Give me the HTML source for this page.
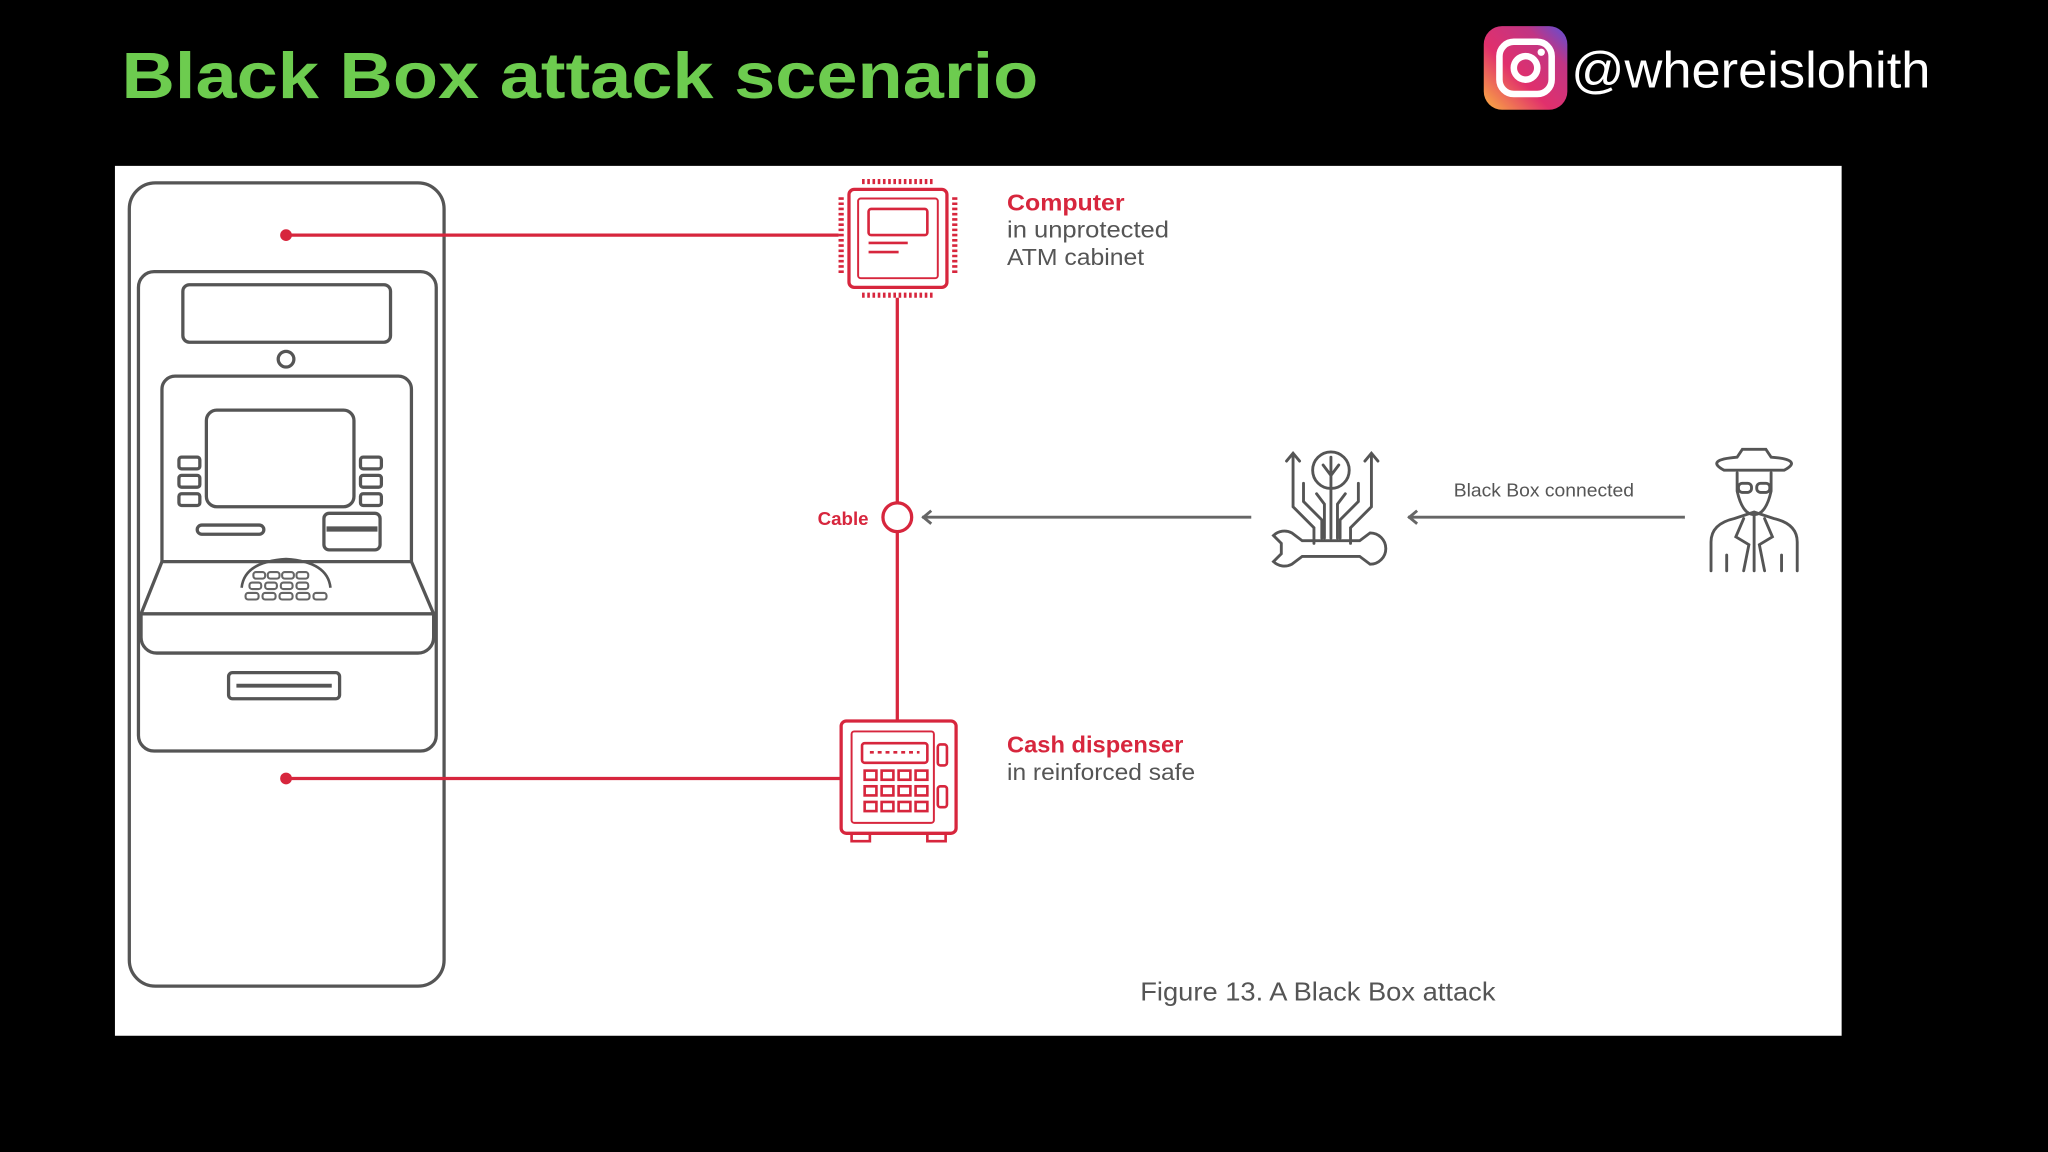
<!DOCTYPE html>
<html><head><meta charset="utf-8"><style>
html,body{margin:0;padding:0;background:#000;width:2048px;height:1152px;overflow:hidden}
svg{display:block}
text{font-family:"Liberation Sans",sans-serif}
</style></head><body>
<svg width="2048" height="1152" viewBox="0 0 1568 882" xmlns="http://www.w3.org/2000/svg">
<defs>
<linearGradient id="ig" x1="0" y1="1" x2="1" y2="0">
<stop offset="0" stop-color="#fbb040"/><stop offset="0.4" stop-color="#e1306c"/><stop offset="0.75" stop-color="#c13584"/><stop offset="1" stop-color="#5851db"/>
</linearGradient>
</defs>
<rect width="1568" height="882" fill="#000"/>
<text x="93" y="75" font-size="50" font-weight="bold" fill="#6dcc4f" textLength="702" lengthAdjust="spacingAndGlyphs">Black Box attack scenario</text>
<rect x="1136" y="20" width="64" height="64" rx="14" fill="url(#ig)"/>
<rect x="1148" y="32" width="40" height="40" rx="11" fill="none" stroke="#fff" stroke-width="5"/>
<circle cx="1168" cy="52" r="9" fill="none" stroke="#fff" stroke-width="5"/>
<circle cx="1180" cy="40" r="2.8" fill="#fff"/>
<text x="1203" y="67" font-size="39" fill="#fff" textLength="275" lengthAdjust="spacingAndGlyphs">@whereislohith</text>

<rect x="88" y="127" width="1322" height="666" fill="#fff"/>

<g fill="none" stroke="#555" stroke-width="2.5">
<rect x="99" y="140" width="241" height="615" rx="20"/>
<rect x="106" y="208" width="228" height="367" rx="12"/>
<rect x="140" y="218" width="159" height="44" rx="5"/>
<circle cx="219" cy="275" r="6"/>
<path d="M124,430 V298 a10,10 0 0 1 10,-10 H305 a10,10 0 0 1 10,10 V430"/>
<rect x="158" y="314" width="113" height="74" rx="8"/>
<rect x="137" y="350" width="16" height="9" rx="2"/><rect x="137" y="364" width="16" height="9" rx="2"/><rect x="137" y="378" width="16" height="9" rx="2"/>
<rect x="276" y="350" width="16" height="9" rx="2"/><rect x="276" y="364" width="16" height="9" rx="2"/><rect x="276" y="378" width="16" height="9" rx="2"/>
<rect x="151" y="402" width="51" height="7" rx="3.5"/>
<rect x="248" y="393" width="43" height="28" rx="4"/>
<line x1="250" y1="405" x2="289" y2="405" stroke-width="4"/>
<path d="M124,430 H315 L332,470 H108 Z"/>
<path d="M108,470 H332 V488 a12,12 0 0 1 -12,12 H120 a12,12 0 0 1 -12,-12 Z"/>
<rect x="175" y="515" width="85" height="20" rx="3"/>
<line x1="181" y1="525" x2="254" y2="525" stroke-width="3"/>
<path d="M185,450 q2,-20 34,-22 q32,2 34,22" stroke-width="2"/>
</g>
<g fill="none" stroke="#666" stroke-width="1.6">
<rect x="194" y="438" width="9" height="5" rx="2"/><rect x="205" y="438" width="9" height="5" rx="2"/><rect x="216" y="438" width="9" height="5" rx="2"/><rect x="227" y="438" width="9" height="5" rx="2"/>
<rect x="191" y="446" width="9" height="5" rx="2"/><rect x="203" y="446" width="9" height="5" rx="2"/><rect x="215" y="446" width="9" height="5" rx="2"/><rect x="227" y="446" width="9" height="5" rx="2"/>
<rect x="188" y="454" width="10" height="5" rx="2"/><rect x="201" y="454" width="10" height="5" rx="2"/><rect x="214" y="454" width="10" height="5" rx="2"/><rect x="227" y="454" width="10" height="5" rx="2"/><rect x="240" y="454" width="10" height="5" rx="2"/>
</g>

<g stroke="#d7263d" stroke-width="2.5" fill="none">
<line x1="219" y1="180" x2="642" y2="180"/>
<line x1="219" y1="596" x2="644" y2="596"/>
<line x1="687" y1="228" x2="687" y2="385"/>
<line x1="687" y1="407" x2="687" y2="553"/>
<circle cx="687" cy="396" r="11" fill="#fff"/>
<rect x="650" y="145" width="75" height="75" rx="4"/>
<rect x="657" y="152" width="61" height="61" rx="2" stroke-width="1.5"/>
<rect x="665" y="160" width="45" height="20" rx="2" stroke-width="2"/>
<line x1="665" y1="186" x2="695" y2="186" stroke-width="2"/>
<line x1="665" y1="193" x2="688" y2="193" stroke-width="2"/>
<path d="M660,139 h56 M660,226 h56 M644,151 v58 M731,151 v58" stroke-dasharray="2 2" stroke-width="4"/>
<rect x="644" y="552" width="88" height="86" rx="4"/>
<rect x="652" y="560" width="63" height="70" rx="2" stroke-width="1.5"/>
<rect x="660" y="569" width="50" height="15" rx="2" stroke-width="2"/>
<path d="M666,576 h38" stroke-dasharray="3 3" stroke-width="2"/>
<rect x="718" y="570" width="7" height="16" rx="2" stroke-width="2"/>
<rect x="718" y="602" width="7" height="16" rx="2" stroke-width="2"/>
<g stroke-width="2">
<rect x="662" y="590" width="9" height="7"/><rect x="675" y="590" width="9" height="7"/><rect x="688" y="590" width="9" height="7"/><rect x="701" y="590" width="9" height="7"/>
<rect x="662" y="602" width="9" height="7"/><rect x="675" y="602" width="9" height="7"/><rect x="688" y="602" width="9" height="7"/><rect x="701" y="602" width="9" height="7"/>
<rect x="662" y="614" width="9" height="7"/><rect x="675" y="614" width="9" height="7"/><rect x="688" y="614" width="9" height="7"/><rect x="701" y="614" width="9" height="7"/>
</g>
<path d="M652,638 v6 h14 v-6 M710,638 v6 h14 v-6" stroke-width="2"/>
</g>
<circle cx="219" cy="180" r="4.5" fill="#d7263d"/>
<circle cx="219" cy="596" r="4.5" fill="#d7263d"/>
<text x="771" y="161" font-size="18" font-weight="bold" fill="#d7263d" textLength="90" lengthAdjust="spacingAndGlyphs">Computer</text>
<text x="771" y="182" font-size="18" fill="#555" textLength="124" lengthAdjust="spacingAndGlyphs">in unprotected</text>
<text x="771" y="203" font-size="18" fill="#555" textLength="105" lengthAdjust="spacingAndGlyphs">ATM cabinet</text>
<text x="771" y="576" font-size="18" font-weight="bold" fill="#d7263d" textLength="135" lengthAdjust="spacingAndGlyphs">Cash dispenser</text>
<text x="771" y="597" font-size="18" fill="#555" textLength="144" lengthAdjust="spacingAndGlyphs">in reinforced safe</text>
<text x="626" y="402" font-size="14" font-weight="bold" fill="#d7263d" textLength="39" lengthAdjust="spacingAndGlyphs">Cable</text>
<text x="1113" y="380" font-size="14" fill="#555" textLength="138" lengthAdjust="spacingAndGlyphs">Black Box connected</text>
<text x="873" y="766" font-size="20" fill="#555" textLength="272" lengthAdjust="spacingAndGlyphs">Figure 13. A Black Box attack</text>

<g stroke="#666" stroke-width="2.2" fill="none">
<line x1="706" y1="396" x2="958" y2="396"/>
<path d="M713,391 l-6,5 6,5"/>
<line x1="1078" y1="396" x2="1290" y2="396"/>
<path d="M1085,391 l-6,5 6,5"/>
</g>
<g stroke="#555" stroke-width="2.2" fill="none" stroke-linecap="round">
<circle cx="1019" cy="360" r="14"/>
<path d="M1019,350 v62 M1013,356 l6,8 6,-8"/>
<path d="M990,348 v40 l16,16 v12 M985,353 l5,-6 5,6"/>
<path d="M1050,348 v40 l-16,16 v12 M1045,353 l5,-6 5,6"/>
<path d="M998,370 v14 l14,14 v14 M1040,370 v14 l-14,14 v14"/>
<path d="M1008,378 l6,8 v26 M1030,378 l-6,8 v26"/>
<path d="M975,410 a12,12 0 0 1 14,-2 l8,6 h44 l8,-6 a12,12 0 1 1 0,24 l-8,-6 h-44 l-8,6 a12,12 0 0 1 -14,-2 l6,-6 v-8 z"/>
<path d="M1320,360 q-15,-8 10,-10 l4,-6 h18 l4,6 q25,2 10,10 z"/>
<path d="M1330,362 v14 q4,18 13,18 q9,0 13,-18 v-14"/>
<rect x="1331" y="370" width="10" height="7" rx="3"/><rect x="1345" y="370" width="10" height="7" rx="3"/>
<path d="M1310,437 v-22 q0,-14 18,-18 l15,-5 15,5 q18,4 18,18 v22"/>
<path d="M1335,397 l-6,14 10,6 -4,20 M1351,397 l6,14 -10,6 4,20 M1343,395 v42"/>
<path d="M1322,425 v12 M1364,425 v12"/>
</g>
</svg>
</body></html>
